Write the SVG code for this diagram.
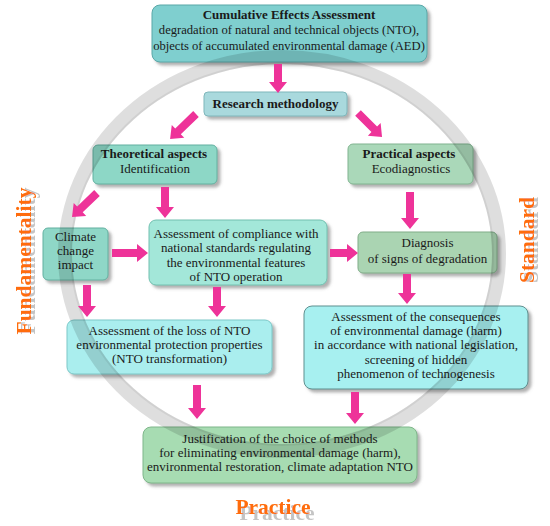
<svg xmlns="http://www.w3.org/2000/svg" width="550" height="526" viewBox="0 0 550 526">
<style>
.t{font-family:"Liberation Serif","Times New Roman",serif;font-size:13px;fill:#1a1a1a;text-anchor:middle}
.b{font-weight:bold}
.lab{font-family:"Liberation Serif","Times New Roman",serif;font-size:21.5px;font-weight:bold;text-anchor:middle;fill:#ff6c0a}
.box{filter:url(#ds);stroke-width:1}
.arr{fill:#ee3399}
</style>
<defs>
<filter id="ds" x="-10%" y="-10%" width="130%" height="140%">
<feDropShadow dx="3" dy="3" stdDeviation="1.5" flood-color="#6f6f6f" flood-opacity="0.55"/>
</filter>
<filter id="tsv" x="-20%" y="-50%" width="140%" height="200%">
<feOffset in="SourceAlpha" dx="0" dy="4" result="o"/>
<feFlood flood-color="#c4c4c4"/>
<feComposite in2="o" operator="in" result="s"/>
<feMerge><feMergeNode in="s"/><feMergeNode in="SourceGraphic"/></feMerge>
</filter>
<filter id="tsh" x="-20%" y="-50%" width="140%" height="200%">
<feOffset in="SourceAlpha" dx="4" dy="6" result="o"/>
<feFlood flood-color="#c4c4c4"/>
<feComposite in2="o" operator="in" result="s"/>
<feMerge><feMergeNode in="s"/><feMergeNode in="SourceGraphic"/></feMerge>
</filter>
</defs>
<rect width="550" height="526" fill="#ffffff"/>

<g id="node-cea">
<rect class="box" x="152" y="5" width="275" height="57" rx="8" fill="#7fcfcf" stroke="#5aa8a8"/>
<text class="t b" x="289" y="19">Cumulative Effects Assessment</text>
<text class="t" x="289" y="34" style="font-size:12.6px">degradation of natural and technical objects (NTO),</text>
<text class="t" x="289" y="50" style="font-size:12.6px">objects of accumulated environmental damage (AED)</text>
</g>
<g id="node-research">
<rect class="box" x="204" y="92" width="143" height="24" rx="4" fill="#a9d9dd" stroke="#7fb7bb"/>
<text class="t b" x="275.5" y="108">Research methodology</text>
</g>
<g id="node-theoretical">
<rect class="box" x="93" y="145" width="124" height="39" rx="5" fill="#8dd7c6" stroke="#62b0a0"/>
<text class="t b" x="154" y="158">Theoretical aspects</text>
<text class="t" x="155" y="173">Identification</text>
</g>
<g id="node-practical">
<rect class="box" x="348" y="144" width="125" height="40" rx="5" fill="#aad8b9" stroke="#80b490"/>
<text class="t b" x="409" y="158">Practical aspects</text>
<text class="t" x="411" y="173">Ecodiagnostics</text>
</g>
<g id="node-climate">
<rect class="box" x="43" y="228" width="65" height="52" rx="5" fill="#8fd7c7" stroke="#62b0a0"/>
<text class="t" x="75.5" y="241">Climate</text>
<text class="t" x="75.5" y="255">change</text>
<text class="t" x="75.5" y="269">impact</text>
</g>
<g id="node-compliance">
<rect class="box" x="149" y="220" width="178" height="65" rx="7" fill="#a3e7d9" stroke="#72c0b0"/>
<text class="t" x="236" y="238">Assessment of compliance with</text>
<text class="t" x="236" y="252">national standards regulating</text>
<text class="t" x="236" y="267">the environmental features</text>
<text class="t" x="236" y="281">of NTO operation</text>
</g>
<g id="node-diagnosis">
<rect class="box" x="358" y="232" width="139" height="41" rx="5" fill="#aad4b2" stroke="#80ad88"/>
<text class="t" x="427.5" y="247">Diagnosis</text>
<text class="t" x="427.5" y="263">of signs of degradation</text>
</g>
<g id="node-loss">
<rect class="box" x="67" y="320" width="205" height="54" rx="7" fill="#aaeeee" stroke="#7cc8c8"/>
<text class="t" x="169.5" y="335">Assessment of the loss of NTO</text>
<text class="t" x="169.5" y="349">environmental protection properties</text>
<text class="t" x="169.5" y="363">(NTO transformation)</text>
</g>
<g id="node-consequences">
<rect class="box" x="304" y="306" width="224" height="83" rx="8" fill="#a7f0f0" stroke="#5f8f8f"/>
<text class="t" x="416" y="321">Assessment of the consequences</text>
<text class="t" x="416" y="335">of environmental damage (harm)</text>
<text class="t" x="416" y="349">in accordance with national legislation,</text>
<text class="t" x="416" y="364">screening of hidden</text>
<text class="t" x="416" y="378">phenomenon of technogenesis</text>
</g>
<g id="node-justification">
<rect class="box" x="143" y="427" width="274" height="56" rx="8" fill="#a7dcb2" stroke="#7fb68a"/>
<text class="t" x="280" y="443">Justification of the choice of methods</text>
<text class="t" x="280" y="457">for eliminating environmental damage (harm),</text>
<text class="t" x="280" y="471">environmental restoration, climate adaptation NTO</text>
</g>

<g id="ring">
<ellipse cx="282" cy="254" rx="217" ry="197" fill="none" stroke="#000" stroke-opacity="0.13" stroke-width="14"/>
<ellipse cx="282" cy="254" rx="211" ry="191" fill="none" stroke="#000" stroke-opacity="0.06" stroke-width="2"/>
</g>

<g id="labels">
<text class="lab" x="0" y="0" transform="translate(31,261) rotate(-90)" filter="url(#tsv)">Fundamentality</text>
<text class="lab" x="0" y="0" transform="translate(534,240) rotate(-90)" filter="url(#tsv)">Standard</text>
<text class="lab" x="273" y="514" filter="url(#tsh)">Practice</text>
</g>

<g id="connectors">
<path class="arr" transform="translate(278,64) rotate(90)" d="M0,-4 L18,-4 L18,-9 L29,0 L18,9 L18,4 L0,4 Z"/>
<path class="arr" transform="translate(196,114) rotate(136)" d="M0,-4 L25,-4 L25,-9 L36,0 L25,9 L25,4 L0,4 Z"/>
<path class="arr" transform="translate(358,113) rotate(45)" d="M0,-4 L23,-4 L23,-9 L34,0 L23,9 L23,4 L0,4 Z"/>
<path class="arr" transform="translate(97,193) rotate(136)" d="M0,-4 L23.7,-4 L23.7,-9 L34.7,0 L23.7,9 L23.7,4 L0,4 Z"/>
<path class="arr" transform="translate(165,187) rotate(90)" d="M0,-4 L20,-4 L20,-9 L31,0 L20,9 L20,4 L0,4 Z"/>
<path class="arr" transform="translate(112,253)" d="M0,-4 L25,-4 L25,-9 L36,0 L25,9 L25,4 L0,4 Z"/>
<path class="arr" transform="translate(410,192) rotate(90)" d="M0,-4 L26,-4 L26,-9 L37,0 L26,9 L26,4 L0,4 Z"/>
<path class="arr" transform="translate(330,253)" d="M0,-4 L17,-4 L17,-9 L28,0 L17,9 L17,4 L0,4 Z"/>
<path class="arr" transform="translate(87,285) rotate(90)" d="M0,-4 L21,-4 L21,-9 L32,0 L21,9 L21,4 L0,4 Z"/>
<path class="arr" transform="translate(217,287) rotate(90)" d="M0,-4 L19,-4 L19,-9 L30,0 L19,9 L19,4 L0,4 Z"/>
<path class="arr" transform="translate(407,274) rotate(90)" d="M0,-4 L19,-4 L19,-9 L30,0 L19,9 L19,4 L0,4 Z"/>
<path class="arr" transform="translate(197,385) rotate(90)" d="M0,-4 L23,-4 L23,-9 L34,0 L23,9 L23,4 L0,4 Z"/>
<path class="arr" transform="translate(355,392) rotate(90)" d="M0,-4 L21,-4 L21,-9 L32,0 L21,9 L21,4 L0,4 Z"/>
</g>
</svg>
